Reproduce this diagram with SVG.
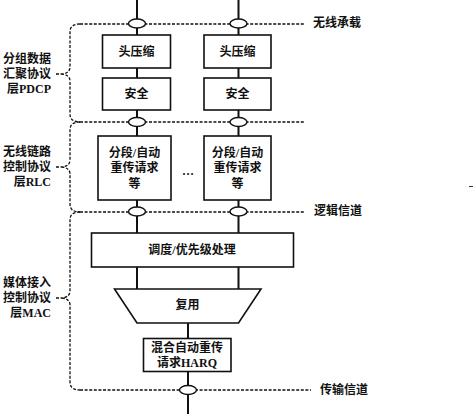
<svg xmlns="http://www.w3.org/2000/svg" width="474" height="414" viewBox="0 0 474 414">
<style>
.box{fill:#fff;stroke:#111;stroke-width:1.6}
.ln{stroke:#111;stroke-width:2;fill:none}
.dash{stroke:#111;stroke-width:1.3;stroke-dasharray:3,1.6;fill:none}
.ell{fill:#fff;stroke:#111;stroke-width:1.4}
text{font-family:"Liberation Serif","Noto Sans CJK SC",serif;font-weight:bold;font-size:12px;fill:#111}
.c{text-anchor:middle;dominant-baseline:central}
.r{text-anchor:end;dominant-baseline:central}
.l{text-anchor:start;dominant-baseline:central}
</style>
<rect width="474" height="414" fill="#fff"/>
<g id="connectors">
<path class="ln" d="M137,0V35M137,68V78M137,110V136M137,200V233M238.5,0V35M238.5,68V78M238.5,110V136M238.5,200V233M137,267V289M238.5,267V289M188,323V338M188,372V414"/>
<path class="dash" d="M80,24H305M80,122H305M80,212H305M80,390H311"/>
<path class="dash" d="M80,24Q70,24 70,32V67Q70,73 62,74Q70,75 70,81V114Q70,122 80,122"/>
<path class="dash" d="M80,122Q70,122 70,130V160Q70,166 62,167Q70,168 70,174V204Q70,212 80,212"/>
<path class="dash" d="M80,212Q70,212 70,220V291Q70,297 62,298Q70,299 70,305V382Q70,390 80,390"/>
<path class="dash" d="M56,74H62M56,167H62M56,298H62"/>
<ellipse class="ell" cx="137" cy="23.5" rx="8.5" ry="4.5"/>
<ellipse class="ell" cx="238.5" cy="23.5" rx="8.5" ry="4.5"/>
<ellipse class="ell" cx="137" cy="122" rx="8.5" ry="4.5"/>
<ellipse class="ell" cx="238.5" cy="122" rx="8.5" ry="4.5"/>
<ellipse class="ell" cx="137" cy="211.5" rx="8.5" ry="4.5"/>
<ellipse class="ell" cx="238.5" cy="211.5" rx="8.5" ry="4.5"/>
<ellipse class="ell" cx="188" cy="390" rx="8.5" ry="4.5"/>
<path d="M469,186.5H473" stroke="#333" stroke-width="1"/>
</g>
<g id="n-hc1"><rect class="box" x="102.5" y="35" width="68" height="33"/><text class="c" x="136.5" y="52">头压缩</text></g>
<g id="n-hc2"><rect class="box" x="204" y="35" width="67" height="33"/><text class="c" x="237.5" y="52">头压缩</text></g>
<g id="n-sec1"><rect class="box" x="102.5" y="78" width="68" height="32"/><text class="c" x="136.5" y="94">安全</text></g>
<g id="n-sec2"><rect class="box" x="204" y="78" width="67" height="32"/><text class="c" x="237.5" y="94">安全</text></g>
<g id="n-rlc1"><rect class="box" x="98" y="136" width="73" height="64"/><text class="c" x="134.5" y="153">分段/自动</text><text class="c" x="134.5" y="168">重传请求</text><text class="c" x="134.5" y="184">等</text></g>
<g id="n-rlc2"><rect class="box" x="204" y="136" width="67" height="64"/><text class="c" x="237.5" y="153">分段/自动</text><text class="c" x="237.5" y="168">重传请求</text><text class="c" x="237.5" y="184">等</text></g>
<text class="c" x="188" y="171">…</text>
<g id="n-sched"><rect class="box" x="91.5" y="233" width="202" height="34"/><text class="c" x="192" y="250">调度/优先级处理</text></g>
<g id="n-mux"><path class="box" d="M114.5,289H261L238.5,323H137Z"/><text class="c" x="187.5" y="305">复用</text></g>
<g id="n-harq"><rect class="box" x="143.5" y="338.5" width="87.5" height="33"/><text class="c" x="187" y="347.5">混合自动重传</text><text class="c" x="187" y="362.5">请求HARQ</text></g>
<g id="labels">
<text class="r" x="51" y="59">分组数据</text><text class="r" x="51" y="74">汇聚协议</text><text class="r" x="51" y="89">层PDCP</text>
<text class="r" x="51" y="152">无线链路</text><text class="r" x="51" y="167">控制协议</text><text class="r" x="51" y="182">层RLC</text>
<text class="r" x="51" y="283">媒体接入</text><text class="r" x="51" y="298">控制协议</text><text class="r" x="51" y="313">层MAC</text>
<text class="l" x="313" y="23">无线承载</text>
<text class="l" x="314" y="211">逻辑信道</text>
<text class="l" x="320" y="390">传输信道</text>
</g>
</svg>
